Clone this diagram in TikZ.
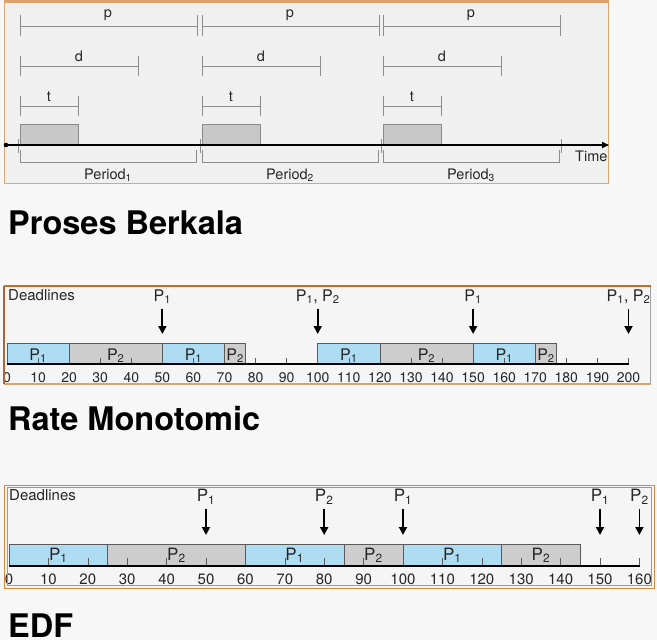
\documentclass[tikz,border=0pt]{standalone}
\usepackage{fontspec}
\setmainfont{TeX Gyre Heros}
\usetikzlibrary{arrows.meta}
\definecolor{bgc}{HTML}{F7F7F7}
\definecolor{toppanel}{HTML}{F0F0F0}
\definecolor{topborder}{HTML}{D9A877}
\definecolor{topedge}{HTML}{DDA16A}
\definecolor{dimgray}{HTML}{8C8C8C}
\definecolor{burstgray}{HTML}{C8C8C8}
\definecolor{burstline}{HTML}{8A8A8A}
\definecolor{panelbg}{HTML}{F5F5F5}
\definecolor{bluefill}{HTML}{AEDCF2}
\definecolor{grayfill}{HTML}{CDCDCD}
\definecolor{boxline}{HTML}{5A5A5A}
\definecolor{rmtopc}{HTML}{CC6A1E}
\definecolor{rmleftc}{HTML}{A8683A}
\definecolor{rmbotc}{HTML}{D2A679}
\definecolor{rmrightc}{HTML}{A0A0A0}
\definecolor{edfc}{HTML}{D98A3C}
\begin{document}
\begin{tikzpicture}[x=1pt,y=-1pt,
  dimline/.style={draw=dimgray, line width=0.9pt},
  dimlbl/.style={inner sep=0pt, font=\fontsize{14.5}{16}\selectfont, text=black!85},
  burst/.style={fill=burstgray, draw=burstline, line width=0.7pt},
  tickgray/.style={draw=dimgray, line width=0.8pt},
  title/.style={inner sep=0pt, font=\fontsize{32.5}{36}\selectfont\bfseries},
  schedbox/.style={draw=boxline, line width=0.7pt},
  boxlbl/.style={inner sep=0pt, font=\fontsize{16}{18}\selectfont, text=black!85},
  dllbl/.style={inner sep=0pt, font=\fontsize{16}{18}\selectfont, text=black!85},
  dlarrow/.style={line width=1.8pt, -{Triangle[length=8pt,width=8pt]}},
  smalltick/.style={draw=boxline, line width=0.6pt},
  rmnum/.style={inner sep=0pt, font=\fontsize{14}{16}\selectfont, text=black!85},
  edfnum/.style={inner sep=0pt, font=\fontsize{15}{17}\selectfont, text=black!85},
  hdr/.style={inner sep=0pt, font=\fontsize{15}{17}\selectfont, text=black!85}
]
\useasboundingbox (0,0) rectangle (657,640);
\fill[bgc] (0,0) rectangle (657,640);

% ================= top panel =================
\fill[toppanel] (4,0) rectangle (609,184);
\draw[topborder, line width=1pt] (4.5,-1) rectangle (608.5,183.5);
\fill[topedge] (4,0) rectangle (609,3);

\foreach \s/\n in {20/1,202/2,383/3}{
  \draw[dimline] (\s,15) -- (\s,36) (\s,26) -- ({\s+177},26) ({\s+177},15) -- ({\s+177},36);
  \node[dimlbl, anchor=base] (p\n) at ({\s+88},17) {p};
  \draw[dimline] (\s,56) -- (\s,76) (\s,66) -- ({\s+118},66) ({\s+118},56) -- ({\s+118},76);
  \node[dimlbl, anchor=base] (d\n) at ({\s+59},61) {d};
  \draw[dimline] (\s,96) -- (\s,116) (\s,106) -- ({\s+58},106) ({\s+58},96) -- ({\s+58},116);
  \node[dimlbl, anchor=base] (t\n) at ({\s+29},101) {t};
  \draw[burst] (\s,124) rectangle ({\s+58},145);
  \draw[dimline] (\s,150) -- (\s,162) -- ({\s+176},162) -- ({\s+176},150);
  \node[dimlbl, anchor=base] (per\n) at ({\s+88},179) {Period\textsubscript{\n}};
}
\foreach \x in {18,200,381,561}{
  \draw[tickgray] (\x,139) -- (\x,153);
}
\coordinate (tl0) at (6,145);
\coordinate (tl1) at (609,145);
\draw[line width=1.6pt, -{Triangle[length=7pt,width=6pt]}] (tl0) -- (tl1);
\fill (tl0) circle (2.3);
\node[dimlbl, anchor=base west] (time) at (575,161) {Time};

\node[title, anchor=base west] (t1) at (8,234) {Proses Berkala};

% ================= Rate Monotonic =================
\fill[panelbg] (4,286) rectangle (650,384);
\node[hdr, anchor=base west] (rmhdr) at (8,300) {Deadlines};

\foreach \a/\b/\k/\c [count=\i] in {0/20/1/bluefill, 20/50/2/grayfill, 50/70/1/bluefill, 70/76.8/2/grayfill,
  100/120/1/bluefill, 120/150/2/grayfill, 150/170/1/bluefill, 170/176.9/2/grayfill}{
  \pgfmathsetmacro\xa{7+3.1075*\a}
  \pgfmathsetmacro\xb{7+3.1075*\b}
  \draw[schedbox, fill=\c] (\xa,343.3) rectangle (\xb,364);
  \node[boxlbl, anchor=base] (rmbox\i) at ({(\xa+\xb)/2},360) {P\textsubscript{\k}};
}
\foreach \u in {10,20,...,200}{
  \pgfmathsetmacro\xx{7+3.1075*\u}
  \draw[smalltick] (\xx,364) -- (\xx,357.5);
}
\coordinate (rml0) at (7,364);
\coordinate (rml1) at (628.6,364);
\draw[line width=2pt] (rml0) -- (rml1);
\foreach \u in {0,10,...,200}{
  \pgfmathsetmacro\xx{7+3.1075*\u}
  \node[rmnum, anchor=base] (rmn\u) at (\xx,382) {\u};
}
\foreach \u/\t [count=\i] in {50/{P\textsubscript{1}}, 100/{P\textsubscript{1}, P\textsubscript{2}},
  150/{P\textsubscript{1}}, 200/{P\textsubscript{1}, P\textsubscript{2}}}{
  \pgfmathsetmacro\xx{7+3.1075*\u}
  \node[dllbl, anchor=base] (rmdl\i) at (\xx,301) {\t};
  \coordinate (rma\i) at (\xx,309);
  \coordinate (rmb\i) at (\xx,334);
  \draw[dlarrow] (rma\i) -- (rmb\i);
}
\draw[rmrightc, line width=1pt] (650,286) -- (650,384);
\draw[rmbotc, line width=1.4pt] (4,384) -- (650.5,384);
\draw[rmtopc, line width=1.4pt] (4,286) -- (650.5,286);
\draw[rmleftc, line width=1.4pt] (4,286) -- (4,384);

\node[title, anchor=base west] (t2) at (8,430) {Rate Monotomic};

% ================= EDF =================
\fill[panelbg] (4.5,485) rectangle (654.5,588.5);
\node[hdr, anchor=base west] (edfhdr) at (9,500.7) {Deadlines};

\foreach \a/\b/\k/\c [count=\i] in {0/25/1/bluefill, 25/60/2/grayfill, 60/85/1/bluefill, 85/100/2/grayfill,
  100/125/1/bluefill, 125/145/2/grayfill}{
  \pgfmathsetmacro\xa{9+3.94*\a}
  \pgfmathsetmacro\xb{9+3.94*\b}
  \draw[schedbox, fill=\c] (\xa,544.3) rectangle (\xb,565.7);
  \node[boxlbl, font=\fontsize{17}{19}\selectfont, anchor=base] (edfbox\i) at ({(\xa+\xb)/2},560) {P\textsubscript{\k}};
}
\foreach \u in {10,20,...,160}{
  \pgfmathsetmacro\xx{9+3.94*\u}
  \draw[smalltick] (\xx,566) -- (\xx,558);
}
\coordinate (edl0) at (9,566);
\coordinate (edl1) at (639.6,566);
\draw[line width=2pt] (edl0) -- (edl1);
\foreach \u in {0,10,...,160}{
  \pgfmathsetmacro\xx{9+3.94*\u}
  \node[edfnum, anchor=base] (edn\u) at (\xx,584.3) {\u};
}
\foreach \u/\k [count=\i] in {50/1, 80/2, 100/1, 150/1, 160/2}{
  \pgfmathsetmacro\xx{9+3.94*\u}
  \node[dllbl, font=\fontsize{17}{19}\selectfont, anchor=base] (edl\i) at (\xx,501.7) {P\textsubscript{\k}};
  \coordinate (eda\i) at (\xx,509);
  \coordinate (edb\i) at (\xx,535);
  \draw[dlarrow] (eda\i) -- (edb\i);
}
\draw[edfc, line width=1pt] (4.5,485) rectangle (654.5,588.5);
\draw[edfc, line width=1pt] (7.5,487.8) rectangle (651.5,585.8);

\node[title, text depth=0pt, anchor=base west] (t3) at (8,637.5) {EDF};
\end{tikzpicture}
\end{document}
